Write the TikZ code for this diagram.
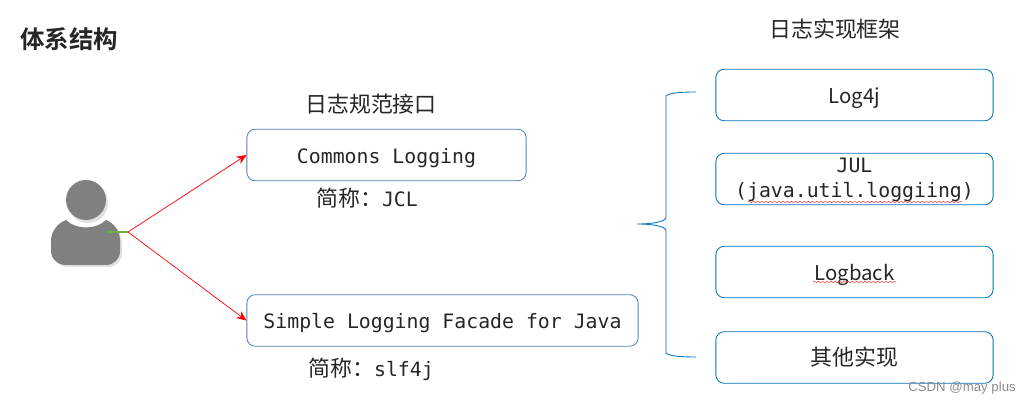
\documentclass[tikz,border=0pt]{standalone}
\usepackage{fontspec}
\setmainfont{Noto Sans CJK SC}[BoldFont={Noto Sans CJK SC Bold}]
\setmonofont{DejaVu Sans Mono}
\newfontfamily\wmfont{Liberation Sans}
\usetikzlibrary{arrows.meta,decorations.pathmorphing}
\definecolor{implblue}{HTML}{0070C0}
\definecolor{apiblue}{HTML}{4F81BD}
\definecolor{textgray}{HTML}{262626}
\definecolor{stubgreen}{HTML}{70AD47}
\begin{document}
\begin{tikzpicture}[x=0.025cm,y=-0.025cm,
        bx/.style={draw,rounded corners=6pt,line width=0.6pt,inner sep=0pt,minimum height=1.29cm,text=textgray,align=center,text height=12pt,text depth=0pt},
        impl/.style={bx,draw=implblue,minimum width=6.93cm},
        api/.style={bx,draw=apiblue,font=\ttfamily\fontsize{14.1}{17.8}\selectfont},
        lb/.style={text=textgray,inner sep=0pt,font=\fontsize{15.6}{18}\selectfont},
        arr/.style={draw=red,line width=0.5pt,-{Stealth[length=7pt,width=6pt]}},
        wavy/.style={draw=red!80,line width=0.35pt,decorate,decoration={snake,amplitude=0.5pt,segment length=3pt}}]
    \useasboundingbox (0,0) rectangle (1030,405);
    \node[lb,font=\fontsize{17.4}{20}\selectfont\bfseries] (title) at (69,39) {体系结构};
    % user icon
    \fill[black!12] (88,203) circle (20);
    \fill[black!12] (68,222) .. controls (78,232) and (98,232) .. (108,222) .. controls (116,225) and (122,233) .. (122,243) -- (122,253) .. controls (122,261) and (116,267) .. (108,267) -- (68,267) .. controls (60,267) and (53,261) .. (53,253) -- (53,243) .. controls (53,233) and (60,225) .. (68,222) -- cycle;
    \fill[black!50] (86,200) circle (20);
    \fill[black!50] (66,220) .. controls (76,230) and (96,230) .. (106,220) .. controls (114,223) and (120,231) .. (120,241) -- (120,251) .. controls (120,259) and (114,265) .. (106,265) -- (66,265) .. controls (58,265) and (51,259) .. (51,251) -- (51,241) .. controls (51,231) and (58,223) .. (66,220) -- cycle;
    \coordinate (user) at (107,232);
    \coordinate (hub) at (128,232);
    \draw[stubgreen,line width=0.8pt] (user) -- (hub);
    % interfaces
    \node[lb] (apititle) at (371,104) {日志规范接口};
    \node[api,minimum width=6.98cm] (jcl) at (386.5,155) {Commons Logging};
    \node[api,minimum width=9.78cm] (slf) at (442.5,320.5) {Simple Logging Facade for Java};
    \node[lb] (jclname) at (367,198) {简称：\texttt{\fontsize{14.1}{17}\selectfont JCL}};
    \node[lb] (slfname) at (371,369) {简称：\texttt{\fontsize{14.1}{17}\selectfont slf4j}};
    \draw[arr] (hub) -- (jcl.west);
    \draw[arr] (hub) -- (slf.west);
    % implementations
    \node[lb] (impltitle) at (835,29) {日志实现框架};
    \foreach \n/\y/\t/\f in {log/95/Log4j/\fontsize{14.5}{18}\selectfont,
            back/272/Logback/\fontsize{14.5}{18}\selectfont,
            other/357.5/其他实现/\fontsize{15.6}{18}\selectfont} {
        \node[impl,font=\f] (\n) at (854.5,\y) {\t};
    }
    \node[impl,font=\ttfamily\fontsize{14.1}{17.8}\selectfont,text height=27pt,text depth=0pt] (jul) at (854.5,179) {JUL\\(java.util.loggiing)};
    \draw[wavy] (748,202) -- (962,202);
    \draw[wavy] (813,282) -- (896,282);
    % brace
    \draw[implblue,line width=0.6pt] (696,92) .. controls (680,92) and (669,93) .. (666,96) -- (666,218) .. controls (664,222) and (652,224) .. (637,224) .. controls (652,224) and (664,226) .. (666,230) -- (666,353) .. controls (669,356) and (680,357) .. (696,357);
    \node[inner sep=0pt,text=black!45,font=\wmfont\fontsize{9.4}{12}\selectfont] (mark) at (962,388) {CSDN @may plus};
\end{tikzpicture}
\end{document}
